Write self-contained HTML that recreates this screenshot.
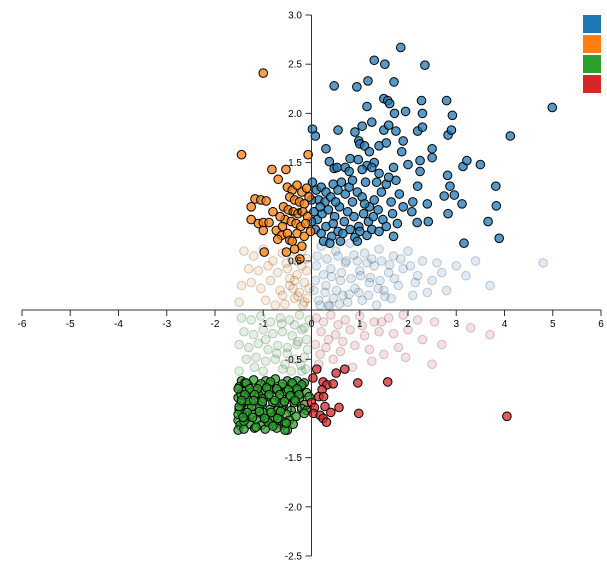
<!DOCTYPE html>
<html><head><meta charset="utf-8">
<style>
html,body{margin:0;padding:0;background:#fff;}
svg{display:block;font-family:"Liberation Sans",sans-serif;}
</style></head>
<body>
<svg id="chart" width="607" height="566"></svg>
<script>
// ---- data (data units) ----
const xTicks=[-6,-5,-4,-3,-2,-1,0,1,2,3,4,5,6];
const yTicks=[3.0,2.5,2.0,1.5,1.0,0.5,-0.5,-1.0,-1.5,-2.0,-2.5];
const legendColors=["#1f77b4","#ff7f0e","#2ca02c","#d62728"];

const blueX=[1.85,1.30,1.52,2.35,0.47,0.94,1.17,1.71,1.50,1.58,1.62,1.15,1.72,1.95,2.28,2.30,2.80,2.92,4.99,4.12,2.83,2.90,0.02,0.08,0.55,0.90,1.05,1.25,1.50,1.60,1.75,2.20,2.30,0.98,1.00,1.10,1.20,1.40,1.55,1.90,1.87,0.30,0.37,0.80,0.97,1.15,0.47,0.53,0.70,0.78,1.05,1.30,1.25,1.40,1.70,2.00,2.25,2.25,2.50,2.50,2.82,3.14,3.22,3.50,3.82,3.83,3.66,3.89,3.16,2.87,2.75,2.96,3.12,2.83,2.40,2.20,2.19,2.42,2.08,2.10,
0.02,0.10,0.20,0.30,0.15,0.28,0.40,0.45,0.55,0.62,0.70,0.78,0.85,0.95,1.05,1.12,1.20,1.30,1.45,1.55,1.65,1.75,1.82,1.60,0.05,0.12,0.22,0.35,0.48,0.58,0.68,0.75,0.88,0.98,1.08,1.18,1.28,1.38,1.48,1.55,1.68,1.78,0.08,0.20,0.30,0.42,0.55,0.65,0.80,0.90,1.00,1.15,1.25,1.40,0.25,0.38,0.60,0.95,0.45,1.10,0.18,0.50,0.85,1.35,1.70,1.90,0.00,0.00];
const blueY=[2.67,2.54,2.50,2.49,2.28,2.27,2.33,2.32,2.15,2.13,2.10,2.07,2.00,2.02,2.13,2.00,2.13,1.98,2.06,1.77,1.78,1.83,1.84,1.77,1.83,1.81,1.87,1.91,1.83,1.88,1.82,1.82,1.86,1.72,1.69,1.67,1.61,1.67,1.70,1.72,1.61,1.64,1.51,1.54,1.53,1.47,1.44,1.45,1.45,1.41,1.43,1.50,1.45,1.39,1.45,1.48,1.52,1.41,1.64,1.55,1.37,1.46,1.52,1.48,1.26,1.06,0.90,0.73,0.68,1.26,1.16,1.17,1.08,0.98,1.08,1.26,0.89,0.90,1.00,1.10,
1.30,1.22,1.25,1.20,1.12,1.10,1.15,1.28,1.22,1.30,1.18,1.25,1.10,1.20,1.15,1.30,1.05,1.12,1.20,1.28,1.10,1.32,1.18,1.35,1.00,0.92,0.98,1.02,0.95,1.05,0.90,1.00,0.95,0.85,0.98,0.90,0.95,1.02,0.92,0.85,0.98,0.88,0.82,0.78,0.85,0.75,0.80,0.78,0.82,0.74,0.80,0.76,0.82,0.80,0.70,0.68,0.70,0.70,0.88,1.08,1.05,1.10,1.32,1.30,0.75,1.05,0.90,1.12];

const orangeX=[-1.00,-1.45,-0.82,-0.53,-0.69,-0.07,-1.17,-1.05,-0.94,-1.25,-1.25,-1.10,-1.00,-0.88,-1.00,-0.73,-0.62,-0.50,-0.45,-0.98,-0.52,-0.24,
-0.50,-0.40,-0.30,-0.20,-0.10,-0.05,-0.45,-0.35,-0.25,-0.15,-0.58,-0.48,-0.38,-0.28,-0.18,-0.08,-0.55,-0.42,-0.32,-0.22,-0.12,-0.65,-0.60,-0.70,-0.30,-0.15,-0.02,-0.40,-0.20,-0.80,-0.35];
const orangeY=[2.41,1.58,1.43,1.43,1.33,1.58,1.13,1.12,1.11,1.05,0.92,0.88,0.89,0.89,0.81,0.81,0.76,0.78,0.71,0.59,0.59,0.52,
1.25,1.22,1.27,1.20,1.24,1.15,1.15,1.12,1.10,1.08,1.05,1.02,1.00,0.98,1.00,0.95,0.92,0.90,0.88,0.85,0.88,0.95,0.85,0.72,0.78,0.75,0.80,0.70,0.65,1.00,0.62];

const greenX=[-1.45,-1.20,-0.95,-0.75,-0.50,-0.30,-0.15,-1.50,-1.32,-1.08,-0.85,-0.62,-0.40,-0.22,-1.42,-1.18,-0.98,-0.70,-0.52,-0.28,-0.10,-1.52,-1.35,-1.12,-0.90,-0.66,-0.45,-0.25,-1.46,-1.25,-1.02,-0.80,-0.58,-0.36,-0.15,-1.50,-1.30,-1.08,-0.86,-0.62,-0.42,-0.20,-1.44,-1.22,-0.98,-0.74,-0.52,-0.32,-1.52,-1.36,-1.14,-0.92,-0.68,-0.46,-0.10,-1.48,-1.28,-1.04,-0.82,-0.60,-0.38,-1.52,-1.40,-1.18,-0.96,-0.72,-0.50,-1.46,-1.24,-1.00,-0.78,-0.56,-1.52,-1.32,-1.10,-0.88,-1.40,-1.15,-0.90,-1.52,-0.55,-0.52,-0.05,-0.15,-1.38,-0.62,-0.80,-1.00,-1.25,-1.50,-0.35,-0.70,
-1.35,-1.05,-0.85,-0.60,-0.40,-0.20,-1.28,-1.12,-0.93,-0.72,-0.48,-0.30,-1.38,-1.18,-0.88,-0.66,-0.44,-0.26,-1.45,-1.20,-1.02,-0.76,-0.56,-0.34,-1.33,-1.08,-0.84,-0.64,-1.42,-1.22,-0.97,-0.70];
const greenY=[-0.72,-0.71,-0.72,-0.70,-0.72,-0.72,-0.74,-0.78,-0.76,-0.77,-0.76,-0.78,-0.76,-0.78,-0.83,-0.82,-0.84,-0.82,-0.83,-0.82,-0.84,-0.89,-0.88,-0.89,-0.88,-0.90,-0.88,-0.90,-0.95,-0.94,-0.95,-0.94,-0.96,-0.94,-0.96,-1.01,-1.00,-1.00,-1.01,-1.00,-1.02,-1.00,-1.06,-1.06,-1.07,-1.06,-1.06,-1.08,-1.12,-1.11,-1.12,-1.11,-1.12,-1.12,-1.02,-1.17,-1.16,-1.17,-1.16,-1.17,-1.16,-1.22,-1.21,-1.20,-1.21,-1.20,-1.22,-0.86,-0.98,-1.04,-1.09,-1.14,-1.06,-0.92,-0.86,-0.80,-1.13,-1.19,-1.14,-0.80,-1.22,-1.15,-0.88,-1.05,-0.74,-0.94,-1.18,-0.90,-0.84,-0.98,-0.90,-1.02,
-0.74,-0.75,-0.73,-0.75,-0.74,-0.76,-0.80,-0.80,-0.79,-0.80,-0.81,-0.80,-0.86,-0.86,-0.86,-0.86,-0.87,-0.86,-0.92,-0.92,-0.93,-0.92,-0.93,-0.92,-1.04,-1.03,-1.04,-1.03,-1.09,-1.09,-1.10,-1.10];

const redX=[0.11,0.51,0.69,0.03,0.24,0.32,0.45,0.96,1.58,0.22,0.15,0.25,0.00,0.06,0.28,0.57,0.04,0.18,0.24,0.31,0.40,0.98,4.05];
const redY=[-0.60,-0.64,-0.60,-0.69,-0.73,-0.76,-0.75,-0.74,-0.73,-0.81,-0.88,-0.88,-0.94,-0.99,-0.98,-0.99,-1.05,-1.07,-1.10,-1.14,-1.04,-1.05,-1.08];

const fadeBlueX=[0.2,0.5,0.8,1.1,1.4,1.7,2.0,2.3,2.6,3.0,3.4,0.1,0.4,0.7,1.0,1.3,1.6,1.9,2.2,2.5,0.3,0.6,0.9,1.2,1.5,1.8,2.1,2.4,2.8,3.2,0.15,0.45,0.75,1.05,1.35,1.65,4.8,3.7,0.05,0.35,0.65,0.95,
0.12,0.32,0.55,0.72,0.88,1.15,1.25,1.45,1.62,1.85,2.05,0.25,0.42,0.62,0.82,1.02,1.22,1.42,1.72,0.08,0.28,0.52,0.78,0.98,1.18,1.52,0.18,0.38,0.58,1.38,2.15,2.7];
const fadeBlueY=[0.65,0.6,0.68,0.58,0.62,0.55,0.6,0.5,0.48,0.45,0.5,0.45,0.42,0.48,0.4,0.45,0.38,0.42,0.35,0.3,0.25,0.3,0.22,0.28,0.2,0.25,0.15,0.18,0.2,0.35,0.1,0.12,0.08,0.1,0.05,0.12,0.48,0.25,0.2,0.05,0.15,0.5,
0.55,0.52,0.55,0.5,0.56,0.48,0.52,0.5,0.46,0.52,0.45,0.36,0.34,0.38,0.32,0.35,0.33,0.3,0.32,0.3,0.18,0.2,0.16,0.18,0.15,0.14,0.05,0.04,0.06,0.22,0.28,0.38];
const fadeOrangeX=[-1.4,-1.2,-1.0,-0.8,-0.6,-0.4,-0.2,-1.3,-1.1,-0.9,-0.7,-0.5,-0.3,-0.1,-1.45,-1.25,-1.05,-0.85,-0.65,-0.45,-0.25,-0.05,-1.5,-0.95,-0.55,-0.15,-0.35,-0.75,
-0.3,-0.2,-0.1,-0.45,-0.35,-0.15,-0.6,-0.28,-0.08,-0.52,-0.18,-0.38];
const fadeOrangeY=[0.6,0.55,0.62,0.5,0.58,0.52,0.6,0.42,0.4,0.45,0.38,0.42,0.36,0.4,0.25,0.28,0.22,0.3,0.2,0.25,0.18,0.22,0.08,0.1,0.06,0.08,0.12,0.05,
0.5,0.45,0.52,0.32,0.3,0.28,0.15,0.14,0.12,0.48,0.05,0.22];
const fadeGreenX=[-1.45,-1.25,-1.05,-0.85,-0.65,-0.45,-0.25,-0.05,-1.4,-1.2,-1.0,-0.8,-0.6,-0.4,-0.2,-1.5,-1.3,-1.1,-0.9,-0.7,-0.5,-0.3,-0.1,-1.35,-1.15,-0.95,-0.75,-0.55,-0.35,-0.15,-1.5,-1.0,-0.6,-0.2,
-0.35,-0.15,-0.28,-0.08,-0.5,-0.22,-0.42,-0.12,-0.95,-0.72,-1.18,-0.62];
const fadeGreenY=[-0.08,-0.1,-0.06,-0.12,-0.08,-0.1,-0.05,-0.1,-0.22,-0.25,-0.2,-0.24,-0.22,-0.26,-0.2,-0.35,-0.38,-0.34,-0.4,-0.36,-0.38,-0.35,-0.3,-0.5,-0.48,-0.52,-0.5,-0.55,-0.5,-0.48,-0.62,-0.62,-0.6,-0.62,
-0.15,-0.18,-0.32,-0.4,-0.44,-0.56,-0.62,-0.6,-0.3,-0.44,-0.58,-0.14];
const fadeRedX=[0.1,0.4,0.7,1.0,1.3,1.6,1.9,2.2,0.2,0.5,0.8,1.1,1.4,1.7,2.0,2.3,0.3,0.6,0.9,1.2,1.5,1.8,2.5,3.7,3.3,2.7,0.15,0.45,0.85,1.25,
0.25,0.55,0.35,0.65,1.05,0.08,0.18,1.45,2.55,1.95];
const fadeRedY=[-0.08,-0.05,-0.1,-0.06,-0.12,-0.08,-0.05,-0.1,-0.22,-0.25,-0.2,-0.26,-0.22,-0.24,-0.2,-0.3,-0.38,-0.42,-0.36,-0.4,-0.45,-0.38,-0.55,-0.25,-0.18,-0.35,-0.55,-0.5,-0.58,-0.52,
-0.12,-0.15,-0.3,-0.32,-0.16,-0.35,-0.45,-0.12,-0.12,-0.48];

// ---- scales ----
const sx=v=>311.5+48.25*v;
const sy=v=>310.1-98.36*v;
const NS="http://www.w3.org/2000/svg";
const svg=document.getElementById('chart');
function mk(tag,attrs,parent){const e=document.createElementNS(NS,tag);for(const k in attrs)e.setAttribute(k,attrs[k]);(parent||svg).appendChild(e);return e;}

const gPts=mk('g',{});


function drawSeries(xs,ys,color,op,name){
  for(let i=0;i<xs.length;i++){
    const c=mk('circle',{cx:sx(xs[i]),cy:sy(ys[i]),r:4.3,fill:color,'fill-opacity':op*0.75,stroke:'#000','stroke-opacity':op,'stroke-width':1},gPts);
    
    
  }
}
drawSeries(fadeBlueX,fadeBlueY,"#1f77b4",0.2,'faded-point-blue');
drawSeries(fadeOrangeX,fadeOrangeY,"#ff7f0e",0.2,'faded-point-orange');
drawSeries(fadeGreenX,fadeGreenY,"#2ca02c",0.2,'faded-point-green');
drawSeries(fadeRedX,fadeRedY,"#d62728",0.2,'faded-point-red');
drawSeries(blueX,blueY,"#1f77b4",1,'point-blue');
drawSeries(orangeX,orangeY,"#ff7f0e",1,'point-orange');
drawSeries(greenX,greenY,"#2ca02c",1,'point-green');
drawSeries(redX,redY,"#d62728",1,'point-red');

// axes
const gx=mk('g',{});


mk('line',{x1:sx(-6),x2:sx(6),y1:310,y2:310,stroke:'#333','stroke-width':1},gx);
xTicks.forEach(t=>{
  mk('line',{x1:sx(t),x2:sx(t),y1:310,y2:316,stroke:'#333'},gx);
  const tx=mk('text',{x:sx(t),y:327,'font-size':10,'text-anchor':'middle',fill:'#000'},gx);
  tx.textContent=t;
  
  
});
const gy=mk('g',{});


mk('line',{x1:311.5,x2:311.5,y1:sy(3),y2:sy(-2.5),stroke:'#333','stroke-width':1},gy);
yTicks.forEach(t=>{
  mk('line',{x1:305.5,x2:311.5,y1:sy(t),y2:sy(t),stroke:'#333'},gy);
  const tx=mk('text',{x:302,y:sy(t)+3.5,'font-size':10,'text-anchor':'end',fill:'#000'},gy);
  tx.textContent=t.toFixed(1);
  
  
});

// legend
legendColors.forEach((c,i)=>{
  const r=mk('rect',{x:583,y:15+i*20,width:18,height:18,fill:c});
  
  
});
</script>
</body></html>
